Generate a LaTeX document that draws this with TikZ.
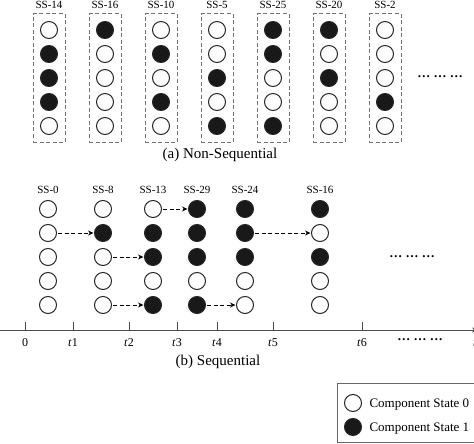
\documentclass[tikz,border=0pt]{standalone}
\usepackage{fontspec}
\setmainfont{Liberation Serif}
\usetikzlibrary{arrows.meta}
\begin{document}
\begin{tikzpicture}[x=1pt,y=-1pt,
  st0/.style={circle,draw=black!85,line width=1pt,fill=white,minimum size=17pt,inner sep=0pt},
  st1/.style={st0,fill=black!90},
  ssbox/.style={draw=black!55,dash pattern=on 4pt off 2.5pt,line width=1pt,minimum width=32pt,minimum height=128pt,inner sep=0pt},
  sslabel/.style={font=\fontsize{11}{13}\selectfont,anchor=base},
  caption/.style={font=\fontsize{15}{18}\selectfont,anchor=base},
  ticklabel/.style={font=\fontsize{12}{14}\selectfont,anchor=base},
  dots/.style={font=\fontsize{13}{15}\selectfont\bfseries},
  trans/.style={-{Stealth[length=5.5pt,width=5pt]},dash pattern=on 4pt off 2.5pt,line width=0.9pt,shorten >=0.5pt,shorten <=1pt},
  axis/.style={draw=black!70,line width=0.9pt},
  legbox/.style={draw=black!60,line width=0.9pt}]
\useasboundingbox (0,0) rectangle (474,444);

% (a) Non-Sequential
\foreach \i/\nm/\s in {1/14/{0,1,1,1,0},2/16/{1,0,0,0,0},3/10/{0,1,0,1,0},4/5/{0,0,1,0,1},5/25/{1,1,0,0,1},6/20/{1,0,1,0,0},7/2/{0,0,0,1,0}}{
  \pgfmathsetmacro\xx{49+56*(\i-1)}
  \node[ssbox] (box\i) at (\xx,78) {};
  \node[sslabel] (la\i) at (\xx,8.5) {SS-\nm};
  \foreach \v [count=\j] in \s {
    \node[st\v] (a\i-\j) at (\xx,{30+24*(\j-1)}) {};
  }
}
\node[dots] (adots) at (440,77) {… … …};
\node[caption] (capa) at (220,158) {(a) Non-Sequential};

% (b) Sequential
\foreach \i/\xx/\nm/\s in {1/48/0/{0,0,0,0,0},2/103/8/{0,1,0,0,0},3/153/13/{0,1,1,0,1},4/197/29/{1,1,1,0,1},5/245/24/{1,1,1,0,0},6/320/16/{1,0,1,0,0}}{
  \node[sslabel] (lb\i) at (\xx,193) {SS-\nm};
  \foreach \v [count=\j] in \s {
    \node[st\v] (b\i-\j) at (\xx,{209+24*(\j-1)}) {};
  }
}
\draw[trans] (b1-2) -- (b2-2);
\draw[trans] (b2-3) -- (b3-3);
\draw[trans] (b2-5) -- (b3-5);
\draw[trans] (b3-1) -- (b4-1);
\draw[trans] (b4-5) -- (b5-5);
\draw[trans] (b5-2) -- (b6-2);
\node[dots] (bdots) at (412,257) {… … …};

% time axis
\coordinate (axL) at (0,330);
\coordinate (axR) at (478,330);
\draw[axis,-{Stealth[length=6pt,width=5pt]}] (axL) -- (axR);
\foreach \xx/\lab [count=\k] in {25/0,73/\textit{t}1,129/\textit{t}2,177/\textit{t}3,217/\textit{t}4,273/\textit{t}5,362/\textit{t}6}{
  \coordinate (tk\k) at (\xx,322);
  \draw[axis] (tk\k) -- (\xx,330);
  \node[ticklabel] (tl\k) at (\xx,346.5) {\lab};
}
\node[dots] (tdots) at (420,340) {… … …};
\node[ticklabel] (tlast) at (475,346.5) {\textit{t}};
\node[caption] (capb) at (218,365) {(b) Sequential};

% legend
\node[legbox,minimum width=150pt,minimum height=59pt,inner sep=0pt] (leg) at (412,412.5) {};
\node[st0] (leg0) at (353,403) {};
\node[st1] (leg1) at (353,427) {};
\node[font=\fontsize{13}{15}\selectfont,anchor=base west] (legt0) at (366,407.5) {Component State 0};
\node[font=\fontsize{13}{15}\selectfont,anchor=base west] (legt1) at (366,431.5) {Component State 1};
\end{tikzpicture}
\end{document}
